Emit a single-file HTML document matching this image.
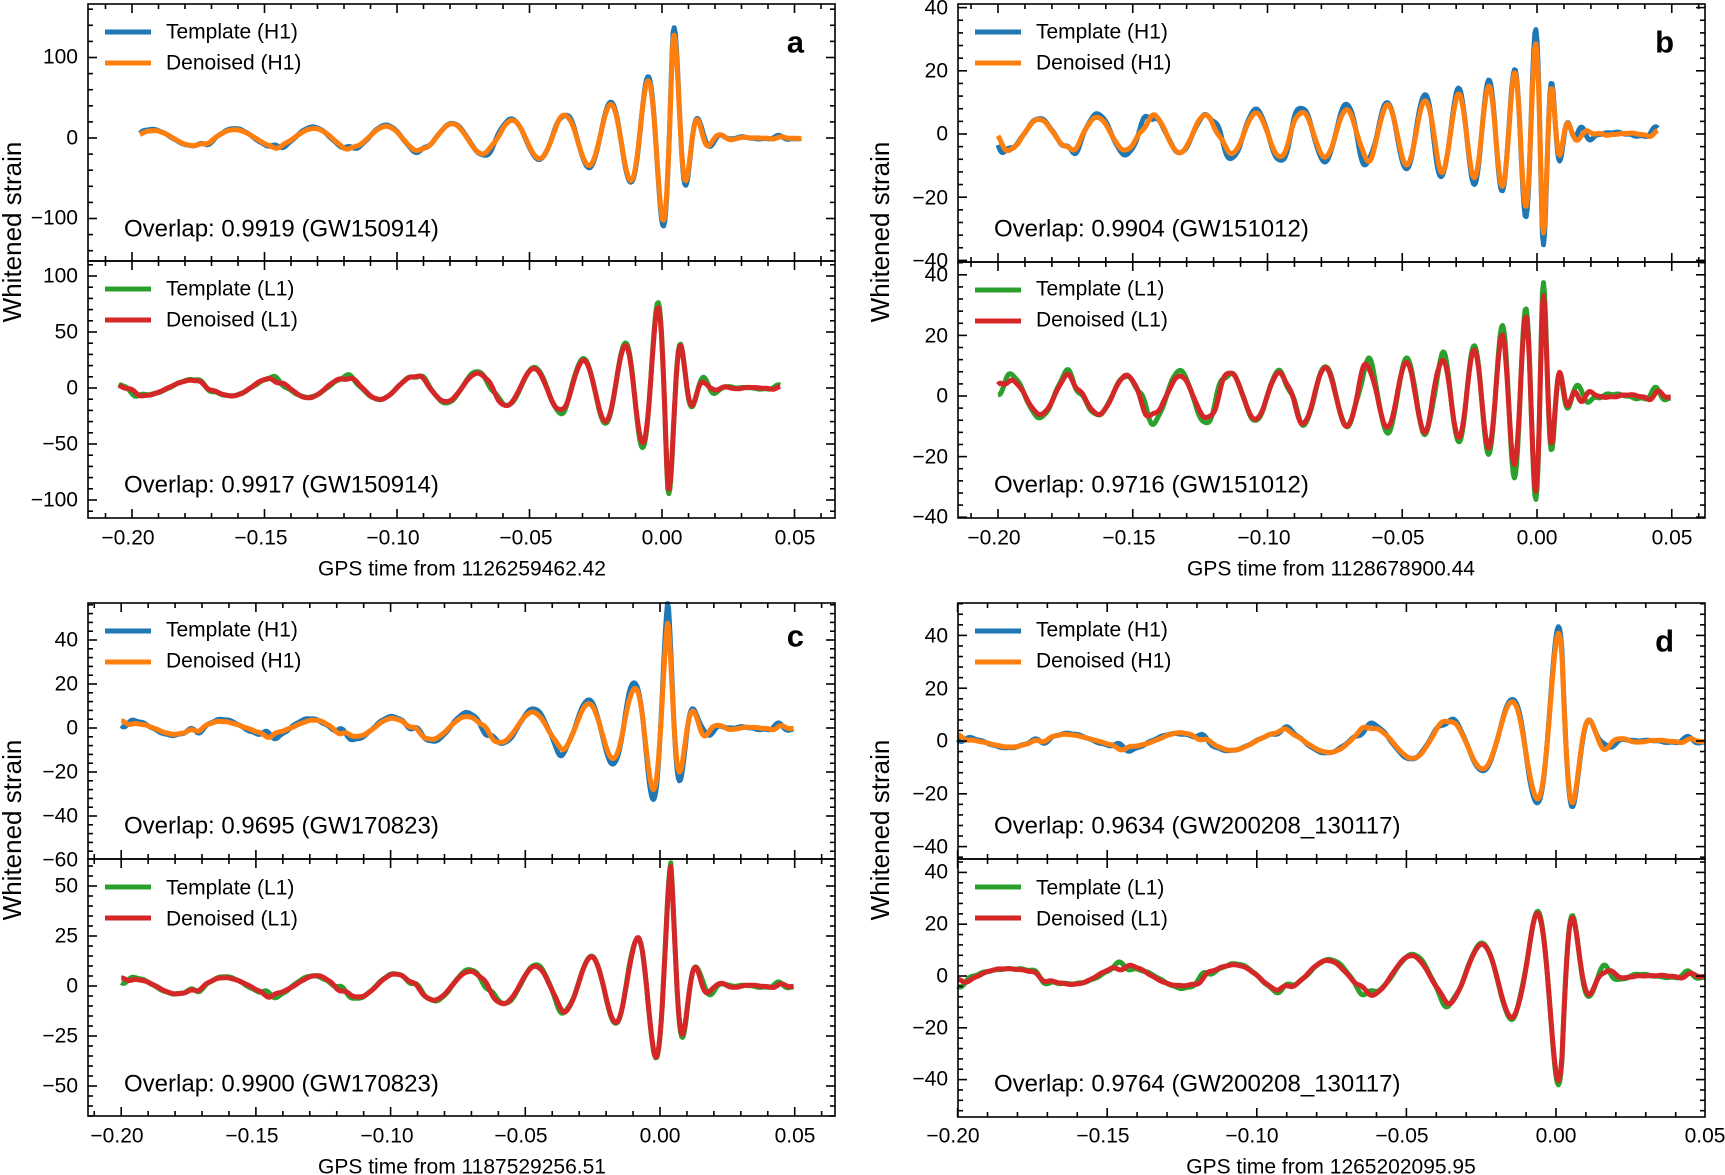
<!DOCTYPE html>
<html><head><meta charset="utf-8"><style>
html,body{margin:0;padding:0;background:#fff;}
svg{display:block;font-family:"Liberation Sans",Arial,sans-serif;}
.tl{font-size:21px;fill:#000;}
.lg{font-size:21px;fill:#000;}
.ov{font-size:24px;fill:#000;}
.pl{font-size:31px;font-weight:bold;fill:#000;}
.yl{font-size:26px;fill:#000;}
</style></head><body>
<svg id="s" width="1725" height="1175" viewBox="0 0 1725 1175" xmlns="http://www.w3.org/2000/svg">
<g id="curves"></g>
<g id="axes" stroke="#000" stroke-width="1.6" fill="none"></g>
<g id="txt">
<g class="tl" text-anchor="end" dominant-baseline="central">
<text x="78" y="57">100</text><text x="78" y="138">0</text><text x="78" y="218">−100</text>
<text x="78" y="276">100</text><text x="78" y="332">50</text><text x="78" y="388">0</text><text x="78" y="444">−50</text><text x="78" y="500">−100</text>
<text x="948" y="8">40</text><text x="948" y="71">20</text><text x="948" y="134">0</text><text x="948" y="198">−20</text><text x="948" y="261">−40</text>
<text x="948" y="275">40</text><text x="948" y="336">20</text><text x="948" y="396">0</text><text x="948" y="457">−20</text><text x="948" y="517">−40</text>
<text x="78" y="640">40</text><text x="78" y="684">20</text><text x="78" y="728">0</text><text x="78" y="772">−20</text><text x="78" y="816">−40</text><text x="78" y="860">−60</text>
<text x="78" y="886">50</text><text x="78" y="936">25</text><text x="78" y="986">0</text><text x="78" y="1036">−25</text><text x="78" y="1086">−50</text>
<text x="948" y="636">40</text><text x="948" y="689">20</text><text x="948" y="741">0</text><text x="948" y="794">−20</text><text x="948" y="847">−40</text>
<text x="948" y="872">40</text><text x="948" y="924">20</text><text x="948" y="976">0</text><text x="948" y="1028">−20</text><text x="948" y="1079">−40</text>
</g>
<g class="tl" text-anchor="middle" dominant-baseline="central">
<text x="128" y="538">−0.20</text><text x="261" y="538">−0.15</text><text x="393" y="538">−0.10</text><text x="526" y="538">−0.05</text><text x="662" y="538">0.00</text><text x="795" y="538">0.05</text>
<text x="994" y="538">−0.20</text><text x="1129" y="538">−0.15</text><text x="1264" y="538">−0.10</text><text x="1398" y="538">−0.05</text><text x="1537" y="538">0.00</text><text x="1672" y="538">0.05</text>
<text x="117" y="1136">−0.20</text><text x="252" y="1136">−0.15</text><text x="387" y="1136">−0.10</text><text x="521" y="1136">−0.05</text><text x="660" y="1136">0.00</text><text x="795" y="1136">0.05</text>
<text x="953" y="1136">−0.20</text><text x="1103" y="1136">−0.15</text><text x="1252" y="1136">−0.10</text><text x="1402" y="1136">−0.05</text><text x="1556" y="1136">0.00</text><text x="1705" y="1136">0.05</text>
</g>
<g class="tl" text-anchor="middle" dominant-baseline="central">
<text x="462" y="569">GPS time from 1126259462.42</text>
<text x="1331" y="569">GPS time from 1128678900.44</text>
<text x="462" y="1167">GPS time from 1187529256.51</text>
<text x="1331" y="1167">GPS time from 1265202095.95</text>
</g>
<g class="yl" text-anchor="middle" dominant-baseline="central">
<text transform="translate(12,232) rotate(-90)">Whitened strain</text>
<text transform="translate(880,232) rotate(-90)">Whitened strain</text>
<text transform="translate(12,830) rotate(-90)">Whitened strain</text>
<text transform="translate(880,830) rotate(-90)">Whitened strain</text>
</g>
<g class="pl" text-anchor="end" dominant-baseline="central">
<text x="804" y="42">a</text><text x="1674" y="42">b</text><text x="804" y="636">c</text><text x="1674" y="641">d</text>
</g>
<g class="ov" dominant-baseline="central">
<text x="124" y="229">Overlap: 0.9919 (GW150914)</text>
<text x="124" y="485">Overlap: 0.9917 (GW150914)</text>
<text x="994" y="229">Overlap: 0.9904 (GW151012)</text>
<text x="994" y="485">Overlap: 0.9716 (GW151012)</text>
<text x="124" y="826">Overlap: 0.9695 (GW170823)</text>
<text x="124" y="1084">Overlap: 0.9900 (GW170823)</text>
<text x="994" y="826">Overlap: 0.9634 (GW200208_130117)</text>
<text x="994" y="1084">Overlap: 0.9764 (GW200208_130117)</text>
</g>
<g class="lg" dominant-baseline="central">
<text x="166" y="32">Template (H1)</text><text x="166" y="63">Denoised (H1)</text>
<text x="166" y="289">Template (L1)</text><text x="166" y="320">Denoised (L1)</text>
<text x="1036" y="32">Template (H1)</text><text x="1036" y="63">Denoised (H1)</text>
<text x="1036" y="289">Template (L1)</text><text x="1036" y="320">Denoised (L1)</text>
<text x="166" y="630">Template (H1)</text><text x="166" y="661">Denoised (H1)</text>
<text x="166" y="888">Template (L1)</text><text x="166" y="919">Denoised (L1)</text>
<text x="1036" y="630">Template (H1)</text><text x="1036" y="661">Denoised (H1)</text>
<text x="1036" y="888">Template (L1)</text><text x="1036" y="919">Denoised (L1)</text>
</g>
</g>
</svg>
<script>
(function(){
var NS="http://www.w3.org/2000/svg";
var cur=document.getElementById('curves'), ax=document.getElementById('axes');
function el(p,tag,a){var e=document.createElementNS(NS,tag);for(var k in a)e.setAttribute(k,a[k]);p.appendChild(e);return e;}
var C={b:'#1f77b4',o:'#ff7f0e',g:'#2ca02c',r:'#d62728'};
function sub(o){
  el(ax,'rect',{x:o.L,y:o.T,width:o.R-o.L,height:o.B-o.T});
  for(var i=-25;i<=6;i++){var t=i*0.01;var x=o.x0+t*o.sx; if(x<o.L-0.5||x>o.R+0.5)continue;
    var len=(i%5==0)?9:5;
    el(ax,'line',{x1:x,y1:o.B,x2:x,y2:o.B-len}); el(ax,'line',{x1:x,y1:o.T,x2:x,y2:o.T+len});}
  for(var v=-200;v<=200;v+=o.mn){var y=o.y0-v*o.sy; if(y<o.T-0.5||y>o.B+0.5)continue;
    var maj=Math.abs(Math.round(v/o.mj)*o.mj-v)<1e-6; var len=maj?9:5;
    el(ax,'line',{x1:o.L,y1:y,x2:o.L+len,y2:y}); el(ax,'line',{x1:o.R,y1:y,x2:o.R-len,y2:y});}
  el(cur,'line',{x1:o.L+17,x2:o.L+63,y1:o.T+28,y2:o.T+28,stroke:o.c1,'stroke-width':5});
  el(cur,'line',{x1:o.L+17,x2:o.L+63,y1:o.T+59,y2:o.T+59,stroke:o.c2,'stroke-width':5});
  var w=o.w;
  function h(t,seed,sc,ns){
    var tc=w.tm+0.006;
    var K=w.N*2*Math.PI/(Math.pow(0.206,0.625)-Math.pow(0.006,0.625));
    var ph,A; var r=w.r, p=Math.log(r)/Math.log(0.006/0.206);
    if(t<w.tm){ph=-K*Math.pow(tc-t,0.625);A=w.A*Math.pow(0.006/(tc-t),p);}
    else{var f=K*0.625*Math.pow(0.006,-0.375);ph=-K*Math.pow(0.006,0.625)+f*(t-w.tm);A=w.A*Math.exp(-(t-w.tm)/w.d);}
    var v=A*sc*Math.cos(ph+w.ph);
    var n=0;for(var k=0;k<5;k++){var fr=55+k*37+seed*13;n+=Math.sin(2*Math.PI*fr*t+seed*1.7+k*2.3)/(1+k*0.5);}
    return v+n*ns;
  }
  function draw(col,seed,sc,ns,t1,t2){
    var d='';for(var t=t1;t<=t2;t+=0.0004){var x=o.x0+t*o.sx,y=o.y0-h(t,seed,sc,ns)*o.sy;d+=(d?'L':'M')+x.toFixed(1)+' '+y.toFixed(1);}
    el(cur,'path',{d:d,stroke:col,'stroke-width':5,fill:'none','stroke-linejoin':'round'});
  }
  draw(o.c1,1,1.0,w.n1,w.t1,w.t2);
  draw(o.c2,2,w.s2,w.n2,w.t1,w.t2);
}
var cfg=[
 {L:88,R:835,T:4,B:261,x0:662,sx:2650,y0:138,sy:0.805,mj:100,mn:20,c1:C.b,c2:C.o,w:{N:9,A:160,r:0.06,tm:0.004,d:0.005,ph:0,n1:1.2,n2:0.6,s2:0.93,t1:-0.197,t2:0.053}},
 {L:88,R:835,T:261,B:518,x0:662,sx:2650,y0:388,sy:1.12,mj:50,mn:10,c1:C.g,c2:C.r,w:{N:9,A:110,r:0.06,tm:0.002,d:0.005,ph:Math.PI,n1:1,n2:0.6,s2:0.95,t1:-0.205,t2:0.045}},
 {L:958,R:1705,T:4,B:262,x0:1537,sx:2695,y0:134,sy:3.16,mj:20,mn:4,c1:C.b,c2:C.o,w:{N:13,A:40,r:0.13,tm:0.002,d:0.004,ph:0,n1:0.8,n2:0.4,s2:0.88,t1:-0.2,t2:0.045}},
 {L:958,R:1705,T:262,B:518,x0:1537,sx:2695,y0:396,sy:3.03,mj:20,mn:4,c1:C.g,c2:C.r,w:{N:13,A:42,r:0.15,tm:0.002,d:0.004,ph:Math.PI,n1:1,n2:0.6,s2:0.9,t1:-0.2,t2:0.05}},
 {L:88,R:835,T:603,B:859,x0:660,sx:2694,y0:728,sy:2.2,mj:20,mn:4,c1:C.b,c2:C.o,w:{N:8,A:58,r:0.05,tm:0.003,d:0.005,ph:0,n1:0.8,n2:0.4,s2:0.85,t1:-0.2,t2:0.05}},
 {L:88,R:835,T:859,B:1116,x0:660,sx:2694,y0:986,sy:2.0,mj:25,mn:5,c1:C.g,c2:C.r,w:{N:8,A:62,r:0.06,tm:0.004,d:0.005,ph:0,n1:0.7,n2:0.4,s2:0.97,t1:-0.2,t2:0.05}},
 {L:958,R:1705,T:603,B:859,x0:1556,sx:2992,y0:741,sy:2.64,mj:20,mn:4,c1:C.b,c2:C.o,w:{N:7,A:52,r:0.04,tm:0.002,d:0.005,ph:0,n1:0.6,n2:0.3,s2:0.95,t1:-0.2,t2:0.05}},
 {L:958,R:1705,T:859,B:1117,x0:1556,sx:2992,y0:976,sy:2.59,mj:20,mn:4,c1:C.g,c2:C.r,w:{N:7,A:50,r:0.06,tm:0.002,d:0.005,ph:Math.PI,n1:0.7,n2:0.4,s2:0.95,t1:-0.2,t2:0.05}}
];
cfg.forEach(sub);
})();
</script>
</body></html>
